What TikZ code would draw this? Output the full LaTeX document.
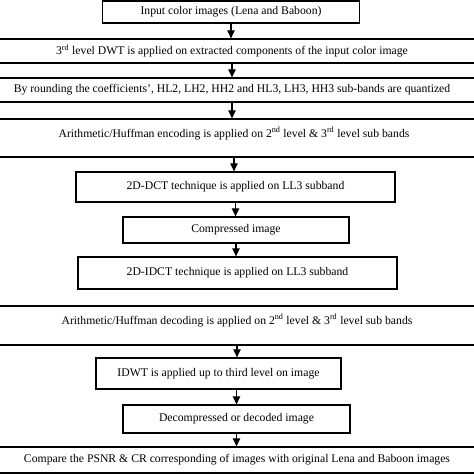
\documentclass[tikz,border=0pt]{standalone}
\usepackage{fontspec}
\setmainfont{Liberation Serif}
\usetikzlibrary{arrows.meta, positioning, calc}
\tikzset{
  x=1pt, y=-1pt,
  >={Triangle[length=2.8mm, width=2.6mm]},
  box/.style={rectangle, draw=black, line width=1.3pt, fill=white,
              align=center, inner sep=2pt, font=\fontsize{11.7}{13}\selectfont},
  wide/.style={box, minimum width=560pt},
  flow/.style={->, line width=1.2pt, draw=black},
}

\begin{document}
\begin{tikzpicture}
  \useasboundingbox (0,0) rectangle (474,474);
  \clip (0,0) rectangle (474,474);
  \fill[white] (0,0) rectangle (474,474);

  % top part: forward transform and coding
  \node[box, minimum width=257pt, minimum height=22pt] (in) at (231,12) {Input color images (Lena and Baboon)};
  \node[wide, minimum height=24pt] (dwt) at (232,51) {3\textsuperscript{rd} level DWT is applied on extracted components of the input color image};
  \node[wide, minimum height=24pt] (quant) at (232,90) {By rounding the coefficients', HL2, LH2, HH2 and HL3, LH3, HH3 sub-bands are quantized};
  \node[wide, minimum height=38pt, text depth=12pt] (enc) at (234,138) {Arithmetic/Huffman encoding is applied on 2\textsuperscript{nd} level \& 3\textsuperscript{rd} level sub bands};

  % middle part: DCT on LL3
  \node[box, minimum width=319pt, minimum height=30pt] (dct) at (235.5,187) {2D-DCT technique is applied on LL3 subband};
  \node[box, minimum width=226pt, minimum height=26pt] (comp) at (236,230) {Compressed image};
  \node[box, minimum width=319pt, minimum height=32pt] (idct) at (237.5,273) {2D-IDCT technique is applied on LL3 subband};

  % bottom part: decoding
  \node[wide, minimum height=39pt, text depth=13pt] (dec) at (237,325.5) {Arithmetic/Huffman decoding is applied on 2\textsuperscript{nd} level \& 3\textsuperscript{rd} level sub bands};
  \node[box, minimum width=245pt, minimum height=31pt] (idwt) at (218.5,373.5) {IDWT is applied up to third level on image};
  \node[box, minimum width=227pt, minimum height=28pt] (decomp) at (236.5,419) {Decompressed or decoded image};
  \node[wide, minimum height=26pt] (psnr) at (237,460) {Compare the PSNR \& CR corresponding of images with original Lena and Baboon images};

  \draw[flow] (in.south) -- (in.south |- dwt.north);
  \draw[flow] (dwt) -- (quant);
  \draw[flow] (quant.south) -- (quant.south |- enc.north);
  \draw[flow] (enc.south) -- (enc.south |- dct.north);
  \draw[flow] (dct.south) -- (dct.south |- comp.north);
  \draw[flow] (comp.south) -- (comp.south |- idct.north);
  \draw[flow] (dec.south) -- (dec.south |- idwt.north);
  \draw[flow] (decomp.north |- idwt.south) -- (decomp.north);
  \draw[flow] (decomp.south) -- (decomp.south |- psnr.north);
\end{tikzpicture}
\end{document}
